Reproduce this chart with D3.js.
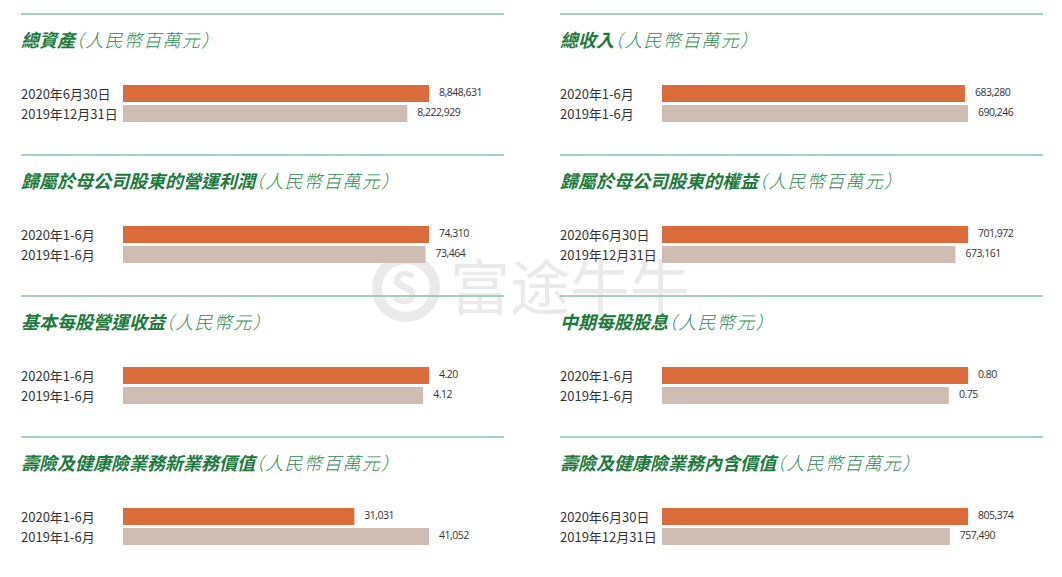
<!DOCTYPE html>
<html>
<head>
<meta charset="utf-8">
<script src="https://cdn.jsdelivr.net/npm/d3@7"></script>
<style>
  body { margin: 0; background: #fff; }
  svg { display: block; }
  .title { font-family: "Noto Sans CJK TC", "Noto Sans CJK SC", sans-serif; font-style: italic; font-size: 18px; }
  .cat { font-family: "Noto Sans CJK TC", "Open Sans", sans-serif; font-size: 13px; fill: #333; }
  .val { font-family: "Open Sans", sans-serif; font-size: 10.5px; letter-spacing: -0.5px; fill: #333; }
</style>
</head>
<body>
<div id="chart"></div>
<script>
// panel titles, in reading order (left, right, left, right ...)
var titleMain = [
  "總資產", "總收入",
  "歸屬於母公司股東的營運利潤", "歸屬於母公司股東的權益",
  "基本每股營運收益", "中期每股股息",
  "壽險及健康險業務新業務價值", "壽險及健康險業務內含價值"
];
var titleUnit = [
  "（人民幣百萬元）", "（人民幣百萬元）",
  "（人民幣百萬元）", "（人民幣百萬元）",
  "（人民幣元）", "（人民幣元）",
  "（人民幣百萬元）", "（人民幣百萬元）"
];
var periodNow = [
  "2020年6月30日", "2020年1-6月", "2020年1-6月", "2020年6月30日",
  "2020年1-6月", "2020年1-6月", "2020年1-6月", "2020年6月30日"
];
var periodPrev = [
  "2019年12月31日", "2019年1-6月", "2019年1-6月", "2019年12月31日",
  "2019年1-6月", "2019年1-6月", "2019年1-6月", "2019年12月31日"
];
var valuesNow = [8848631, 683280, 74310, 701972, 4.20, 0.80, 31031, 805374];
var valuesPrev = [8222929, 690246, 73464, 673161, 4.12, 0.75, 41052, 757490];

var width = 1062, height = 577;
var colX = [21, 560];         // left edge of each column
var colW = 483;               // rule width
var barOffset = 102;          // bar start relative to column
var barMax = 306;             // width of the largest bar in a panel
var rowY = [14, 155, 296, 437];
var barH = 17, barGap = 3;

var orange = "#d96c3a", beige = "#cfbdb3";

var svg = d3.select("#chart").append("svg")
  .attr("width", width)
  .attr("height", height);

// watermark
var wm = svg.append("g").attr("opacity", 0.5);
wm.append("circle").attr("cx", 406).attr("cy", 288).attr("r", 29)
  .attr("fill", "none").attr("stroke", "#d6d6d6").attr("stroke-width", 10);
wm.append("text")
  .attr("x", 404).attr("y", 303)
  .attr("text-anchor", "middle")
  .attr("font-family", "Noto Sans CJK SC")
  .attr("font-size", 42).attr("font-weight", 700)
  .attr("fill", "#d6d6d6")
  .text("S");
wm.append("text")
  .attr("x", 450).attr("y", 310)
  .attr("font-family", "Noto Sans CJK SC")
  .attr("font-size", 60)
  .attr("fill", "#d6d6d6")
  .text("富途牛牛");

titleMain.forEach(function(t, i) {
  var cx = colX[i % 2];
  var top = rowY[Math.floor(i / 2)];
  var g = svg.append("g").attr("transform", "translate(" + cx + "," + top + ")");

  // rule
  g.append("line")
    .attr("x1", 0).attr("x2", colW)
    .attr("y1", 0).attr("y2", 0)
    .attr("stroke", "#86c4a2").attr("stroke-width", 1.6);

  // title
  var tt = g.append("text").attr("class", "title").attr("x", 0).attr("y", 33);
  tt.append("tspan").attr("font-weight", 700).attr("fill", "#1b7a3c").text(t);
  tt.append("tspan").attr("dx", -9).attr("font-weight", 300)
    .attr("letter-spacing", 1.3).attr("fill", "#2e8c55").text(titleUnit[i]);

  var rows = [
    { label: periodNow[i], value: valuesNow[i], color: orange },
    { label: periodPrev[i], value: valuesPrev[i], color: beige }
  ];

  var x = d3.scaleLinear()
    .domain([0, d3.max(rows, function(d) { return d.value; })])
    .range([0, barMax]);
  var y = d3.scaleBand()
    .domain([0, 1])
    .range([71, 71 + 2 * barH + barGap])
    .paddingInner(barGap / (barH + barGap));

  var fmt = valuesNow[i] < 100 ? d3.format(".2f") : d3.format(",");

  var r = g.selectAll(".row").data(rows).enter().append("g");
  r.append("rect")
    .attr("x", barOffset)
    .attr("y", function(d, j) { return y(j); })
    .attr("width", function(d) { return x(d.value); })
    .attr("height", y.bandwidth())
    .attr("fill", function(d) { return d.color; });
  r.append("text")
    .attr("class", "cat")
    .attr("x", 0)
    .attr("y", function(d, j) { return y(j) + y.bandwidth() / 2 + 5; })
    .text(function(d) { return d.label; });
  r.append("text")
    .attr("class", "val")
    .attr("x", function(d) { return barOffset + x(d.value) + 10; })
    .attr("y", function(d, j) { return y(j) + y.bandwidth() / 2 + 2; })
    .text(function(d) { return fmt(d.value); });
});
</script>
</body>
</html>
